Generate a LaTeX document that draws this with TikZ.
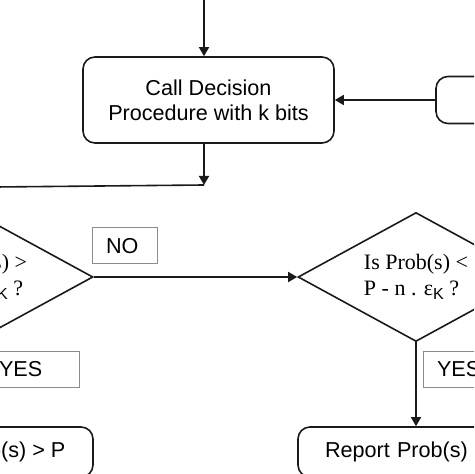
\documentclass[tikz,border=0pt]{standalone}
\usepackage{fontspec}
\setmainfont{Liberation Sans}
\setsansfont{Liberation Sans}
\newfontfamily\timesfont{Liberation Serif}
\usetikzlibrary{positioning,shapes.geometric,arrows.meta}
\definecolor{ink}{HTML}{1A1A1A}
\definecolor{tagline}{HTML}{8C8C8C}
\newcommand{\epsk}{ε\raisebox{-0.45ex}{\fontsize{8}{8}\sffamily K}}
\tikzset{
  box/.style={rectangle,draw=ink,rounded corners=6pt,line width=0.8pt,
    align=center,inner sep=0pt,font=\fontsize{10.8}{12.5}\selectfont},
  dec/.style={diamond,draw=ink,line width=0.8pt,align=left,inner sep=1pt,
    aspect=1.83,minimum width=118pt,minimum height=64.5pt,
    font=\timesfont\fontsize{11}{13}\selectfont},
  tag/.style={rectangle,draw=tagline,line width=0.5pt,inner xsep=7pt,
    align=left,minimum height=18pt,font=\fontsize{10.8}{12.5}\selectfont},
  fl/.style={-{Triangle[length=4.5pt,width=5pt]},draw=ink,line width=0.8pt},
}

\begin{document}
\begin{tikzpicture}[x=0.5pt,y=-0.5pt]
  \useasboundingbox (0,0) rectangle (474,474);
  \clip (0,0) rectangle (474,474);
  \node[box,minimum width=125.5pt,minimum height=43pt] (call) at (208.5,100)
    {Call Decision\\Procedure with k bits};
  \node[box,minimum width=60pt,minimum height=23.5pt] (next) at (496,100) {};
  \node[dec] (isgt) at (-25,277) {Is Prob(s) >\\P + n . \epsk{} ?};
  \node[dec] (islt) at (416,277) {Is Prob(s) <\\P - n . \epsk{} ?};
  \node[tag,text width=18.5pt] (no) at (124.5,246) {NO};
  \node[tag,text width=33pt] (yesl) at (32,369) {YES};
  \node[tag,text width=33pt] (yesr) at (470,369) {YES};
  \node[box,minimum width=118pt,minimum height=25pt] (repl) at (-25,452)
    {Report Prob(s) > P};
  \node[box,minimum width=118pt,minimum height=25pt,text width=91pt,
    inner xsep=13.5pt,align=left] (rep) at (416,452) {Report Prob(s)};
  \coordinate (src) at (204,0);
  \coordinate (join) at (204,185);
  \coordinate (back) at (-4,187);
  \draw[fl] (src)--(src |- call.north);
  \draw[fl] (join |- call.south)--(join);
  \draw[draw=ink,line width=0.8pt] (join)--(back);
  \draw[fl] (next)--(call);
  \draw[fl] (isgt)--(islt);
  \draw[fl] (islt)--(rep);
\end{tikzpicture}
\end{document}
